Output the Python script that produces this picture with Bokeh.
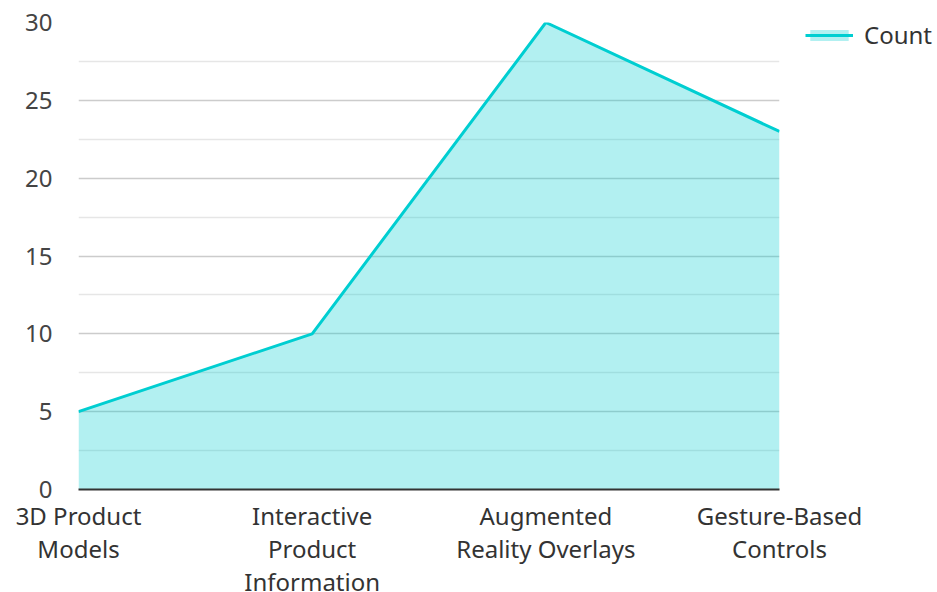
from bokeh.plotting import figure
from bokeh.models import FixedTicker, Legend, LegendItem, Range1d
from bokeh.embed import file_html
from bokeh.resources import INLINE

categories = ["3D Product\nModels", "Interactive\nProduct\nInformation",
              "Augmented\nReality Overlays", "Gesture-Based\nControls"]
counts = [5, 10, 30, 23]
y_ticks = [0, 5, 10, 15, 20, 25, 30]
y_minor = [2.5, 7.5, 12.5, 17.5, 22.5, 27.5]
series_name = "Count"

xs = list(range(len(categories)))
FONT = "Noto Sans"
COLOR = "#00CED1"

p = figure(frame_width=701, frame_height=467, output_backend="svg", toolbar_location=None,
           x_range=Range1d(0, len(categories) - 1), y_range=Range1d(0, 30),
           min_border_left=78, min_border_top=22, min_border_bottom=100,
           min_border_right=0)
p.outline_line_color = None

area = p.varea(x=xs, y1=[0] * len(xs), y2=counts, fill_color=COLOR, fill_alpha=0.3)
line = p.line(x=xs, y=counts, line_color=COLOR, line_width=3)

p.xaxis.ticker = FixedTicker(ticks=xs)
p.xaxis.major_label_overrides = {i: c for i, c in enumerate(categories)}
p.xaxis.major_tick_line_color = None
p.xaxis.minor_tick_line_color = None
p.xaxis.axis_line_color = "#333333"
p.xaxis.axis_line_width = 2
p.xaxis.major_label_text_font = FONT
p.xaxis.major_label_text_font_size = "24px"
p.xaxis.major_label_text_color = "#333333"
p.xaxis.major_label_standoff = 3
p.xaxis.major_label_text_line_height = 1.0

p.yaxis.ticker = FixedTicker(ticks=y_ticks, minor_ticks=y_minor)
p.yaxis.axis_line_color = None
p.yaxis.major_tick_line_color = None
p.yaxis.minor_tick_line_color = None
p.yaxis.major_label_text_font = FONT
p.yaxis.major_label_text_font_size = "24px"
p.yaxis.major_label_text_color = "#444444"
p.yaxis.major_label_standoff = 20

p.xgrid.grid_line_color = None
p.ygrid.grid_line_color = "#cccccc"
p.ygrid.grid_line_width = 1.5
p.ygrid.minor_grid_line_color = "#e6e6e6"
p.ygrid.minor_grid_line_width = 1.5

legend = Legend(items=[LegendItem(label=series_name, renderers=[area, line])],
                location=(26, 438), border_line_color=None, background_fill_alpha=0,
                label_text_font=FONT, label_text_font_size="24px",
                label_text_color="#333333", glyph_width=48, glyph_height=14,
                padding=0, margin=0, label_standoff=11, spacing=0)
p.add_layout(legend, "right")

open("out.html", "w").write(file_html(p, INLINE))
